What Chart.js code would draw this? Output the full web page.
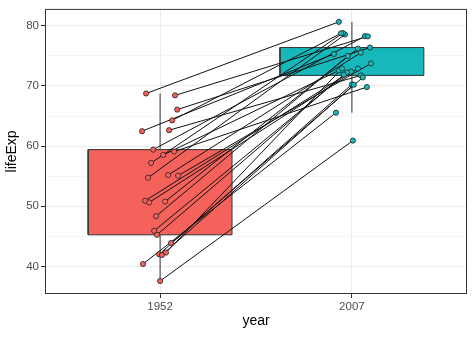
<!DOCTYPE html>
<html>
<head>
<meta charset="utf-8">
<script src="https://cdn.jsdelivr.net/npm/chart.js@4"></script>
<style>
  body { margin: 0; background: #fff; }
  canvas { display: block; }
</style>
</head>
<body>
<canvas id="chart" width="474" height="338"></canvas>
<script>
// life expectancy in the Americas, 1952 vs 2007
const years = ['1952', '2007'];
const countries = ['Argentina', 'Bolivia', 'Brazil', 'Canada', 'Chile', 'Colombia', 'Costa Rica', 'Cuba',
    'Dominican Republic', 'Ecuador', 'El Salvador', 'Guatemala', 'Haiti', 'Honduras', 'Jamaica', 'Mexico',
    'Nicaragua', 'Panama', 'Paraguay', 'Peru', 'Puerto Rico', 'Trinidad and Tobago', 'United States',
    'Uruguay', 'Venezuela'];
const life1952 = [62.485, 40.414, 50.917, 68.75, 54.745, 50.643, 57.206, 59.421, 45.928, 48.357, 45.262,
    42.023, 37.579, 41.912, 58.53, 50.789, 42.314, 55.191, 62.649, 43.902, 64.28, 59.1, 68.44, 66.071, 55.088];
const life2007 = [75.32, 65.554, 72.39, 80.653, 78.553, 72.889, 78.782, 78.273, 72.235, 74.994, 71.878,
    70.259, 60.916, 70.198, 72.567, 76.195, 72.899, 75.537, 71.752, 71.421, 78.746, 69.819, 78.242, 76.384, 73.747];
// horizontal jitter of each point around its year
const jit1952 = [-0.094, -0.089, -0.078, -0.073, -0.063, -0.057, -0.047, -0.036, -0.031, -0.021, -0.016,
    -0.005, 0.0, 0.010, 0.016, 0.026, 0.031, 0.042, 0.047, 0.057, 0.063, 0.073, 0.078, 0.089, 0.094];
const jit2007 = [-0.094, -0.083, -0.005, -0.068, -0.036, 0.031, -0.047, 0.068, -0.026, -0.021, -0.042,
    0.0, 0.005, 0.010, -0.068, 0.031, -0.052, 0.047, 0.047, 0.057, -0.057, 0.078, 0.083, 0.094, 0.099];
const yMajor = [40, 50, 60, 70, 80];
const yMinor = [45, 55, 65, 75];

const fills = ['#F5625C', '#17B8BC'];
const ink = '#333333';
const boxHalf = 0.375;

// quantile type 7, same as R
function quantile(sorted, p) {
    const h = (sorted.length - 1) * p;
    const lo = Math.floor(h);
    const hi = Math.ceil(h);
    return sorted[lo] + (h - lo) * (sorted[hi] - sorted[lo]);
}

function boxStats(values) {
    const s = values.slice().sort((a, b) => a - b);
    const q1 = quantile(s, 0.25), med = quantile(s, 0.5), q3 = quantile(s, 0.75);
    const iqr = q3 - q1;
    const lo = Math.min(...s.filter(v => v >= q1 - 1.5 * iqr));
    const hi = Math.max(...s.filter(v => v <= q3 + 1.5 * iqr));
    return {q1, med, q3, lo, hi};
}

const datasets = [];

[life1952, life2007].forEach((vals, g) => {
    const st = boxStats(vals);
    const c = g + 1;
    const line = {showLine: true, pointRadius: 0, borderColor: ink, borderWidth: 1, order: 4};
    datasets.push(Object.assign({}, line, {
        data: [{x: c - boxHalf, y: st.q1}, {x: c + boxHalf, y: st.q1}, {x: c + boxHalf, y: st.q3},
               {x: c - boxHalf, y: st.q3}, {x: c - boxHalf, y: st.q1}],
        fill: 'shape',
        backgroundColor: fills[g]
    }));
    datasets.push(Object.assign({}, line, {data: [{x: c, y: st.lo}, {x: c, y: st.q1}]}));
    datasets.push(Object.assign({}, line, {data: [{x: c, y: st.q3}, {x: c, y: st.hi}]}));
    datasets.push(Object.assign({}, line, {
        data: [{x: c - boxHalf, y: st.med}, {x: c + boxHalf, y: st.med}],
        borderWidth: 2,
        borderColor: '#222'
    }));
});

countries.forEach((name, i) => {
    datasets.push({
        label: name,
        showLine: true,
        pointRadius: 0,
        borderColor: '#111',
        borderWidth: 1,
        order: 2,
        data: [{x: 1 + jit1952[i], y: life1952[i]}, {x: 2 + jit2007[i], y: life2007[i]}]
    });
});

[[life1952, jit1952], [life2007, jit2007]].forEach(([vals, jit], g) => {
    datasets.push({
        data: vals.map((v, i) => ({x: g + 1 + jit[i], y: v})),
        pointRadius: 2.6,
        pointBackgroundColor: fills[g],
        pointBorderColor: '#222',
        pointBorderWidth: 0.8,
        order: 1
    });
});

const panelBorder = {
    id: 'panelBorder',
    afterDatasetsDraw(chart) {
        const a = chart.chartArea;
        const ctx = chart.ctx;
        ctx.save();
        ctx.strokeStyle = ink;
        ctx.lineWidth = 1;
        ctx.strokeRect(a.left + 0.5, a.top + 0.5, a.right - a.left - 1, a.bottom - a.top - 1);
        ctx.restore();
    }
};

const tickFont = {family: 'Liberation Sans', size: 11.5};
const titleFont = {family: 'Liberation Sans', size: 14};

new Chart(document.getElementById('chart'), {
    type: 'scatter',
    data: {datasets: datasets},
    plugins: [panelBorder],
    options: {
        responsive: false,
        animation: false,
        layout: {padding: {top: 7, right: 7, left: 0, bottom: 0}},
        plugins: {legend: {display: false}, tooltip: {enabled: false}},
        scales: {
            x: {
                type: 'linear',
                min: 0.4,
                max: 2.6,
                afterBuildTicks: s => { s.ticks = [{value: 1}, {value: 2}]; },
                afterFit: s => { s.height = 44; },
                ticks: {
                    callback: v => years[v - 1],
                    font: tickFont,
                    color: '#4D4D4D',
                    padding: 2,
                    maxRotation: 0
                },
                grid: {color: '#EBEBEB', lineWidth: 1, tickColor: ink, tickLength: 4},
                border: {display: false},
                title: {display: true, text: 'year', font: titleFont, color: '#000', padding: {top: 0, bottom: 8}}
            },
            y: {
                min: 35.425,
                max: 82.807,
                afterBuildTicks: s => {
                    s.ticks = yMajor.concat(yMinor).sort((a, b) => a - b).map(v => ({value: v}));
                },
                afterFit: s => { s.width = 45; },
                ticks: {
                    callback: v => yMajor.includes(v) ? String(v) : '',
                    font: tickFont,
                    color: '#4D4D4D',
                    padding: 2
                },
                grid: {
                    color: '#EBEBEB',
                    lineWidth: c => yMajor.includes(c.tick.value) ? 1 : 0.5,
                    tickColor: c => yMajor.includes(c.tick.value) ? ink : 'rgba(0,0,0,0)',
                    tickLength: 4
                },
                border: {display: false},
                title: {display: true, text: 'lifeExp', font: titleFont, color: '#000', padding: {top: 4, bottom: 0}}
            }
        }
    }
});
</script>
</body>
</html>
